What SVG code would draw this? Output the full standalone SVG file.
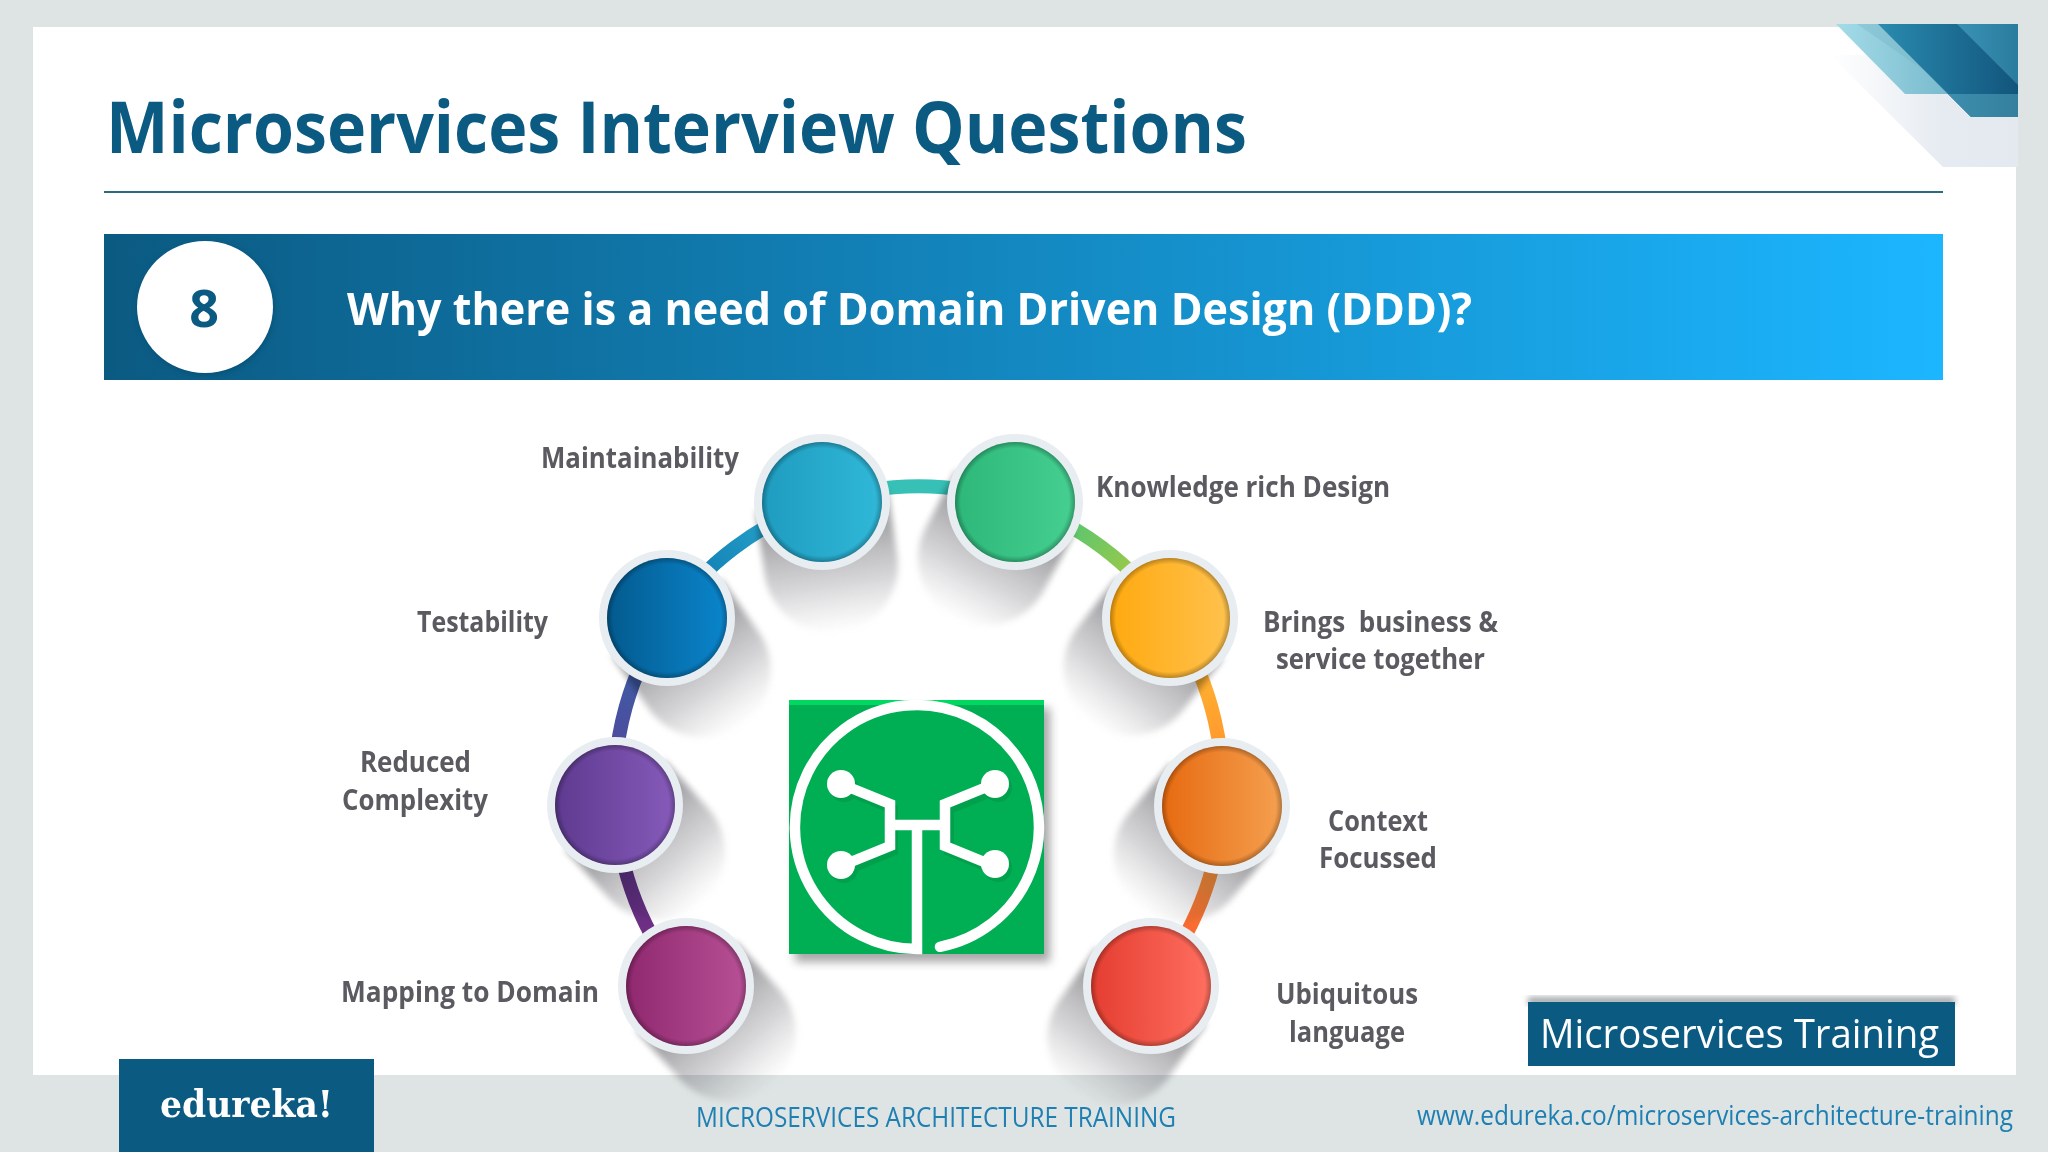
<svg xmlns="http://www.w3.org/2000/svg" xmlns:xlink="http://www.w3.org/1999/xlink" width="2048" height="1152" viewBox="0 0 2048 1152">
<style>
text{font-family:"Open Sans","Liberation Sans",sans-serif}
.lbl{font-size:29px;font-weight:700;fill:#5a5a60;white-space:pre}
.ring{fill:#e8edf1}
.edge{fill:url(#inner)}
.arc{fill:none;stroke-width:14}
.ic{fill:none;stroke:#fff;stroke-width:10.5}
.foot{font-size:27px;fill:#1d7fb2}
.s{mix-blend-mode:multiply}
</style>
<defs>
<linearGradient id="bar" x1="0" x2="1" y1="0" y2="0"><stop offset="0" stop-color="#0b5a82"/><stop offset="1" stop-color="#1cb6ff"/></linearGradient>
<linearGradient id="cGhost" x1="0" x2="1" y1="0" y2="0"><stop offset="0" stop-color="#fff"/><stop offset=".6" stop-color="#e6ebf1"/><stop offset="1" stop-color="#e4e9f0"/></linearGradient>
<linearGradient id="cLight" x1="0" x2="1" y1="0" y2="0"><stop offset="0" stop-color="#a4dbe8"/><stop offset="1" stop-color="#5da6bc"/></linearGradient>
<linearGradient id="cMid" x1="0" x2="1" y1="0" y2="0"><stop offset="0" stop-color="#8ac6d4"/><stop offset="1" stop-color="#6aa8bc"/></linearGradient>
<linearGradient id="cDark" x1="0" x2="1" y1="0" y2="0"><stop offset="0" stop-color="#2a8bb0"/><stop offset="1" stop-color="#12557c"/></linearGradient>
<linearGradient id="cTop" x1="0" x2="1" y1="0" y2="0"><stop offset="0" stop-color="#3a92b5"/><stop offset="1" stop-color="#2a7c9e"/></linearGradient>
<linearGradient id="cBot" x1="0" x2="1" y1="0" y2="0"><stop offset="0" stop-color="#3c8fad"/><stop offset="1" stop-color="#347f9d"/></linearGradient>
<linearGradient id="gTeal" x1="0" x2="1" y1="0" y2="0"><stop offset="0" stop-color="#1e9cc0"/><stop offset="1" stop-color="#30b8d8"/></linearGradient>
<linearGradient id="gGreen" x1="0" x2="1" y1="0" y2="0"><stop offset="0" stop-color="#2db87a"/><stop offset="1" stop-color="#45cf90"/></linearGradient>
<linearGradient id="gYellow" x1="0" x2="1" y1="0" y2="0"><stop offset="0" stop-color="#ffa90f"/><stop offset="1" stop-color="#ffc24e"/></linearGradient>
<linearGradient id="gBlue" x1="0" x2="1" y1="0" y2="0"><stop offset="0" stop-color="#035a8e"/><stop offset="1" stop-color="#0a85cc"/></linearGradient>
<linearGradient id="gPurple" x1="0" x2="1" y1="0" y2="0"><stop offset="0" stop-color="#5e3a8f"/><stop offset="1" stop-color="#865aba"/></linearGradient>
<linearGradient id="gOrange" x1="0" x2="1" y1="0" y2="0"><stop offset="0" stop-color="#e66a10"/><stop offset="1" stop-color="#f5a050"/></linearGradient>
<linearGradient id="gRed" x1="0" x2="1" y1="0" y2="0"><stop offset="0" stop-color="#e43d30"/><stop offset="1" stop-color="#ff6f60"/></linearGradient>
<linearGradient id="gMag" x1="0" x2="1" y1="0" y2="0"><stop offset="0" stop-color="#90286f"/><stop offset="1" stop-color="#b85096"/></linearGradient>
<linearGradient id="a1" gradientUnits="userSpaceOnUse" x1="650" y1="950" x2="620" y2="860"><stop offset="0" stop-color="#742d84"/><stop offset="1" stop-color="#5b3488"/></linearGradient>
<linearGradient id="a2" gradientUnits="userSpaceOnUse" x1="615" y1="750" x2="640" y2="670"><stop offset="0" stop-color="#4f4a9c"/><stop offset="1" stop-color="#3e5ca5"/></linearGradient>
<linearGradient id="a3" gradientUnits="userSpaceOnUse" x1="710" y1="570" x2="770" y2="525"><stop offset="0" stop-color="#1584b8"/><stop offset="1" stop-color="#24a0c8"/></linearGradient>
<linearGradient id="a5" gradientUnits="userSpaceOnUse" x1="1075" y1="525" x2="1130" y2="570"><stop offset="0" stop-color="#5cc66e"/><stop offset="1" stop-color="#98c94a"/></linearGradient>
<linearGradient id="a6" gradientUnits="userSpaceOnUse" x1="1200" y1="680" x2="1220" y2="740"><stop offset="0" stop-color="#ffb030"/><stop offset="1" stop-color="#ff9a2e"/></linearGradient>
<linearGradient id="a7" gradientUnits="userSpaceOnUse" x1="1215" y1="870" x2="1190" y2="930"><stop offset="0" stop-color="#ff9a40"/><stop offset="1" stop-color="#fb6a30"/></linearGradient>
<radialGradient id="inner"><stop offset=".9" stop-color="#000" stop-opacity="0"/><stop offset="1" stop-color="#000" stop-opacity=".28"/></radialGradient>
<linearGradient id="shade" gradientUnits="userSpaceOnUse" x1="30" y1="0" x2="132" y2="0"><stop offset="0" stop-color="#7f7f84" stop-opacity=".7"/><stop offset=".5" stop-color="#9a9a9f" stop-opacity=".42"/><stop offset="1" stop-color="#b0b0b4" stop-opacity="0"/></linearGradient>
<filter id="soft" x="-20%" y="-20%" width="140%" height="140%"><feGaussianBlur stdDeviation="3"/></filter>
<filter id="soft2" x="-10%" y="-10%" width="125%" height="125%"><feGaussianBlur stdDeviation="5"/></filter>
<path id="sh" d="M0-67H64A67 67 0 0 1 64 67H0Z" fill="url(#shade)" filter="url(#soft)"/>
</defs>

<rect width="2048" height="1152" fill="#dee3e3"/>
<rect x="33" y="27" width="1983" height="1048" fill="#fff"/>

<g id="corner">
<polygon points="1830,55 2018,55 2018,167 1943,167" fill="url(#cGhost)"/>
<polygon points="1836,24 2018,24 2018,94 1905,94" fill="url(#cLight)"/>
<polygon points="1857,24 2018,24 2018,70 1923,70" fill="url(#cMid)" opacity=".8"/>
<polygon points="1878,24 2018,24 2018,117 1971,117" fill="url(#cDark)"/>
<polygon points="1957,24 2018,24 2018,85" fill="url(#cTop)"/>
<polygon points="1948,94 2018,94 2018,117 1971,117" fill="url(#cBot)"/>
</g>

<text x="106" y="153" font-size="71" font-weight="700" fill="#0b5a82" textLength="1141" lengthAdjust="spacingAndGlyphs">Microservices Interview Questions</text>
<rect x="104" y="191" width="1839" height="2" fill="#2b6a80"/>

<g id="header">
<rect x="104" y="234" width="1839" height="146" fill="url(#bar)"/>
<ellipse cx="206" cy="309" rx="68" ry="66" fill="#063f5e" opacity=".5" filter="url(#soft)"/>
<ellipse cx="205" cy="307" rx="68" ry="66" fill="#fff"/>
<text x="204" y="327" font-size="52" font-weight="700" fill="#0b5a82" text-anchor="middle">8</text>
<text x="347" y="325" font-size="45" font-weight="700" fill="#fff" textLength="1125" lengthAdjust="spacingAndGlyphs">Why there is a need of Domain Driven Design (DDD)?</text>
</g>

<g id="connectors">
<path class="arc" stroke="url(#a1)" d="M686 986A304 304 0 0 1 615 805"/>
<path class="arc" stroke="url(#a2)" d="M615 805A304 304 0 0 1 667 618"/>
<path class="arc" stroke="url(#a3)" d="M667 618A304 304 0 0 1 822 502"/>
<path class="arc" stroke="#36c0b6" d="M822 502A304 304 0 0 1 1015 502"/>
<path class="arc" stroke="url(#a5)" d="M1015 502A304 304 0 0 1 1170 618"/>
<path class="arc" stroke="url(#a6)" d="M1170 618A304 304 0 0 1 1222 806"/>
<path class="arc" stroke="url(#a7)" d="M1222 806A304 304 0 0 1 1151 986"/>
</g>

<g id="node-maintainability">
<use class="s" href="#sh" transform="translate(822 502) rotate(82)"/>
<circle class="ring" cx="822" cy="502" r="68"/><circle cx="822" cy="502" r="60" fill="url(#gTeal)"/><circle class="edge" cx="822" cy="502" r="60"/>
<text class="lbl" x="541" y="468" textLength="198" lengthAdjust="spacingAndGlyphs">Maintainability</text>
</g>
<g id="node-knowledge">
<use class="s" href="#sh" transform="translate(1015 502) rotate(118)"/>
<circle class="ring" cx="1015" cy="502" r="68"/><circle cx="1015" cy="502" r="60" fill="url(#gGreen)"/><circle class="edge" cx="1015" cy="502" r="60"/>
<text class="lbl" x="1096" y="497" textLength="294" lengthAdjust="spacingAndGlyphs">Knowledge rich Design</text>
</g>
<g id="node-business">
<use class="s" href="#sh" transform="translate(1170 618) rotate(128)"/>
<circle class="ring" cx="1170" cy="618" r="68"/><circle cx="1170" cy="618" r="60" fill="url(#gYellow)"/><circle class="edge" cx="1170" cy="618" r="60"/>
<text class="lbl" x="1263" y="632" textLength="235" lengthAdjust="spacingAndGlyphs">Brings  business &amp;</text>
<text class="lbl" x="1276" y="669" textLength="209" lengthAdjust="spacingAndGlyphs">service together</text>
</g>
<g id="node-context">
<use class="s" href="#sh" transform="translate(1222 806) rotate(130)"/>
<circle class="ring" cx="1222" cy="806" r="68"/><circle cx="1222" cy="806" r="60" fill="url(#gOrange)"/><circle class="edge" cx="1222" cy="806" r="60"/>
<text class="lbl" x="1328" y="831" textLength="100" lengthAdjust="spacingAndGlyphs">Context</text>
<text class="lbl" x="1319" y="868" textLength="118" lengthAdjust="spacingAndGlyphs">Focussed</text>
</g>
<g id="node-ubiquitous">
<use class="s" href="#sh" transform="translate(1151 986) rotate(125)"/>
<circle class="ring" cx="1151" cy="986" r="68"/><circle cx="1151" cy="986" r="60" fill="url(#gRed)"/><circle class="edge" cx="1151" cy="986" r="60"/>
<text class="lbl" x="1276" y="1004" textLength="142" lengthAdjust="spacingAndGlyphs">Ubiquitous</text>
<text class="lbl" x="1289" y="1042" textLength="116" lengthAdjust="spacingAndGlyphs">language</text>
</g>
<g id="node-testability">
<use class="s" href="#sh" transform="translate(667 618) rotate(55)"/>
<circle class="ring" cx="667" cy="618" r="68"/><circle cx="667" cy="618" r="60" fill="url(#gBlue)"/><circle class="edge" cx="667" cy="618" r="60"/>
<text class="lbl" x="417" y="632" textLength="131" lengthAdjust="spacingAndGlyphs">Testability</text>
</g>
<g id="node-complexity">
<use class="s" href="#sh" transform="translate(615 805) rotate(48)"/>
<circle class="ring" cx="615" cy="805" r="68"/><circle cx="615" cy="805" r="60" fill="url(#gPurple)"/><circle class="edge" cx="615" cy="805" r="60"/>
<text class="lbl" x="360" y="772" textLength="111" lengthAdjust="spacingAndGlyphs">Reduced</text>
<text class="lbl" x="342" y="810" textLength="146" lengthAdjust="spacingAndGlyphs">Complexity</text>
</g>
<g id="node-mapping">
<use class="s" href="#sh" transform="translate(686 986) rotate(48)"/>
<circle class="ring" cx="686" cy="986" r="68"/><circle cx="686" cy="986" r="60" fill="url(#gMag)"/><circle class="edge" cx="686" cy="986" r="60"/>
<text class="lbl" x="341" y="1002" textLength="258" lengthAdjust="spacingAndGlyphs">Mapping to Domain</text>
</g>

<g id="node-center">
<rect x="795" y="708" width="255" height="254" fill="#6e6e6e" opacity=".6" filter="url(#soft2)"/>
<rect x="789" y="700" width="255" height="254" fill="#00af54"/>
<rect x="789" y="700" width="255" height="5" fill="#00d862"/>
<path d="M844 789L893 809V851L844 871M998 789L949 809V851L998 871" fill="none" stroke="#00a04c" stroke-width="10"/>
<circle cx="844" cy="788" r="14" fill="#00a04c"/><circle cx="844" cy="869" r="14" fill="#00a04c"/>
<circle cx="998" cy="788" r="14" fill="#00a04c"/><circle cx="998" cy="868" r="14" fill="#00a04c"/>
<g class="ic">
<path d="M940 946.8A122 122 0 1 0 917 949V827M890 825H945M841 784L890 804V846L841 866M994 784L945 804V846L994 866" stroke-linecap="round" stroke-linejoin="miter"/>
</g>
<circle cx="841" cy="784" r="14" fill="#fff"/><circle cx="841" cy="865" r="14" fill="#fff"/>
<circle cx="995" cy="784" r="14" fill="#fff"/><circle cx="995" cy="864" r="14" fill="#fff"/>
</g>

<g id="logo">
<rect x="119" y="1059" width="255" height="93" fill="#0a5a82"/>
<text x="160" y="1117" font-size="38" font-weight="700" fill="#fff" textLength="173" lengthAdjust="spacingAndGlyphs" style="font-family:'DejaVu Serif','Liberation Serif',serif">edureka!</text>
</g>

<g id="badge">
<rect x="1528" y="997" width="427" height="8" fill="#8a8f92" opacity=".8" filter="url(#soft)"/>
<rect x="1528" y="1002" width="427" height="64" fill="#0a5a82"/>
<text x="1540" y="1048" font-size="40" fill="#fff" textLength="399" lengthAdjust="spacingAndGlyphs">Microservices Training</text>
</g>

<text class="foot" x="696" y="1127" textLength="480" lengthAdjust="spacingAndGlyphs">MICROSERVICES ARCHITECTURE TRAINING</text>
<text class="foot" x="1417" y="1125" textLength="596" lengthAdjust="spacingAndGlyphs">www.edureka.co/microservices-architecture-training</text>
</svg>
